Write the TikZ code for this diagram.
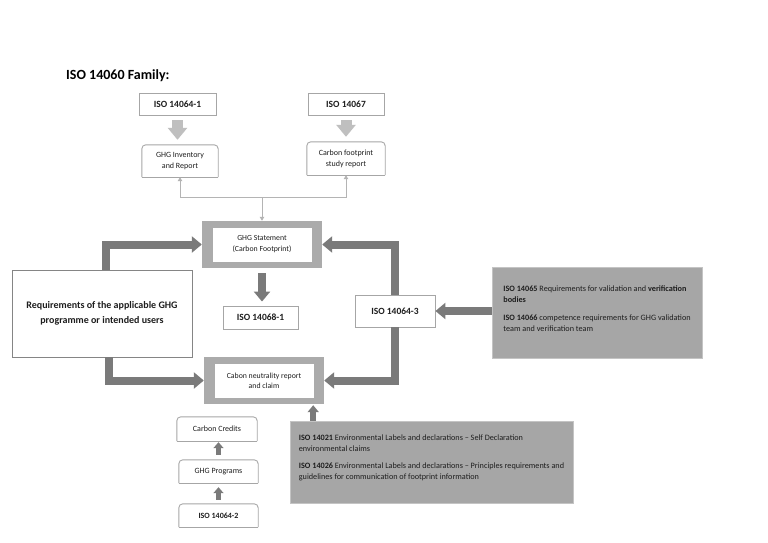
\documentclass[tikz,border=0pt]{standalone}
\usepackage{fontspec}
\setmainfont{Carlito}
\usetikzlibrary{arrows.meta}
\definecolor{boxline}{HTML}{A6A6A6}
\definecolor{darkarrow}{HTML}{7A7A7A}
\definecolor{lightarrow}{HTML}{BFBFBF}
\definecolor{framegray}{HTML}{ABABAB}
\definecolor{panelgray}{HTML}{A6A6A6}
\definecolor{panelline}{HTML}{C4C4C4}
\definecolor{thinline}{HTML}{B4B4B4}
\definecolor{textgray}{HTML}{1E1E1E}
\begin{document}
\begin{tikzpicture}[x=1pt,y=-1pt,
  every node/.style={text=textgray, inner sep=0pt},
  labelbox/.style={draw=boxline, line width=0.9pt, fill=white, font=\fontsize{9.5}{15}\selectfont\bfseries, align=center},
  softbox/.style={draw=none, font=\fontsize{8}{11}\selectfont, align=center,
    append after command={\pgfextra{
      \draw[boxline, line width=0.9pt, rounded corners=4pt] (\tikzlastnode.south west) -- (\tikzlastnode.north west) -- (\tikzlastnode.north east) -- (\tikzlastnode.south east);
      \draw[boxline, line width=0.9pt] (\tikzlastnode.south west) -- (\tikzlastnode.south east);}}},
  framebox/.style={fill=framegray, font=\fontsize{7.8}{11}\selectfont, align=center,
    path picture={\fill[white] ([shift={(10.5,6.5)}]path picture bounding box.north west) rectangle ([shift={(-10.5,-6.5)}]path picture bounding box.south east);}},
  panel/.style={fill=panelgray, draw=panelline, line width=0.8pt, font=\fontsize{8.2}{11}\selectfont, align=left},
  bigarrow/.style={draw=darkarrow, line width=8pt, line join=miter, -{Triangle[width=16pt,length=10pt]}},
  midarrow/.style={draw=darkarrow, line width=6pt, -{Triangle[width=11pt,length=7pt]}},
  smallarrow/.style={draw=darkarrow, line width=5pt, -{Triangle[width=10pt,length=6pt]}},
  lightblock/.style={draw=lightarrow, line width=11pt, -{Triangle[width=19pt,length=12pt]}},
  thinarrow/.style={draw=thinline, line width=1pt, -{Triangle[width=4.5pt,length=4pt]}}
]
\fill[white] (0,0) rectangle (768,543);
\useasboundingbox (0,0) rectangle (768,543);

\node[anchor=base west, font=\fontsize{14}{16}\selectfont\bfseries, text=black] (title) at (66,79) {ISO 14060 Family:};

\node[labelbox, minimum width=77, minimum height=22] (iso1) at (177.5,104) {ISO 14064-1};
\node[labelbox, minimum width=76, minimum height=22] (iso67) at (346,104) {ISO 14067};
\node[softbox, minimum width=76, minimum height=32] (ghginv) at (180,161) {GHG Inventory\\and Report};
\node[softbox, minimum width=78, minimum height=33] (cfp) at (346,158.5) {Carbon footprint\\study report};

\node[framebox, minimum width=120, minimum height=47] (ghgs) at (262,244.5) {GHG Statement\\(Carbon Footprint)};
\node[labelbox, minimum width=75, minimum height=23] (iso68) at (260.5,317.5) {ISO 14068-1};
\node[labelbox, draw=boxline!80!black, font=\fontsize{10}{15.5}\selectfont\bfseries, minimum width=180, minimum height=87] (req) at (102,313.5) {Requirements of the applicable GHG\\programme or intended users};
\node[labelbox, minimum width=80, minimum height=32] (iso3) at (395,311) {ISO 14064-3};
\node[framebox, font=\fontsize{7.8}{10}\selectfont, minimum width=120, minimum height=47] (cabon) at (264,380.5) {Cabon neutrality report\\and claim};

\node[panel, text depth=8pt, minimum width=210, minimum height=91] (rpanel) at (597,313) {\textbf{ISO 14065} Requirements for validation and \textbf{verification}\\\textbf{bodies}\\[7pt]\textbf{ISO 14066} competence requirements for GHG validation\\team and verification team};
\node[panel, text depth=10pt, minimum width=283, minimum height=82] (bpanel) at (431.5,462) {\textbf{ISO 14021} Environmental Labels and declarations -- Self Declaration\\environmental claims\\[6pt]\textbf{ISO 14026} Environmental Labels and declarations -- Principles requirements and\\guidelines for communication of footprint information};

\node[softbox, minimum width=80, minimum height=24] (credits) at (217,429) {Carbon Credits};
\node[softbox, minimum width=79, minimum height=23] (programs) at (218.5,471.5) {GHG Programs};
\node[softbox, font=\fontsize{8}{11}\selectfont\bfseries, minimum width=79, minimum height=23] (iso2) at (218.5,515.5) {ISO 14064-2};

% top block arrows
\draw[lightblock, shorten <=5pt, shorten >=5pt] (iso1.south) -- (iso1.south |- ghginv.north);
\draw[lightblock, shorten <=5pt, shorten >=5pt] (iso67.south) -- (iso67.south |- cfp.north);

% thin connector
\coordinate (j) at (262,197);
\draw[thinarrow] (j) -| (ghginv.south);
\draw[thinarrow] (j) -| (cfp.south);
\draw[thinarrow] (j) -- (ghgs.north);

% big elbow arrows
\draw[bigarrow] ([xshift=4pt]req.north) |- (ghgs.west);
\draw[bigarrow] ([xshift=7pt]req.south) |- (cabon.west);
\draw[bigarrow] (iso3.north) |- (ghgs.east);
\draw[bigarrow] (iso3.south) |- (cabon.east);
\draw[bigarrow] (rpanel.west |- iso3.east) -- (iso3.east);
\draw[bigarrow, shorten <=5pt, shorten >=4pt] (ghgs.south) -- (ghgs.south |- iso68.north);

% bottom panel to cabon
\coordinate (c) at ([xshift=-11pt]cabon.south east);
\draw[midarrow, shorten >=1pt] (bpanel.north -| c) -- (c);

% left column
\draw[smallarrow, shorten <=5pt, shorten >=1pt] (programs.north) -- (programs.north |- credits.south);
\draw[smallarrow, shorten <=4pt, shorten >=4pt] (iso2.north) -- (iso2.north |- programs.south);
\end{tikzpicture}
\end{document}
